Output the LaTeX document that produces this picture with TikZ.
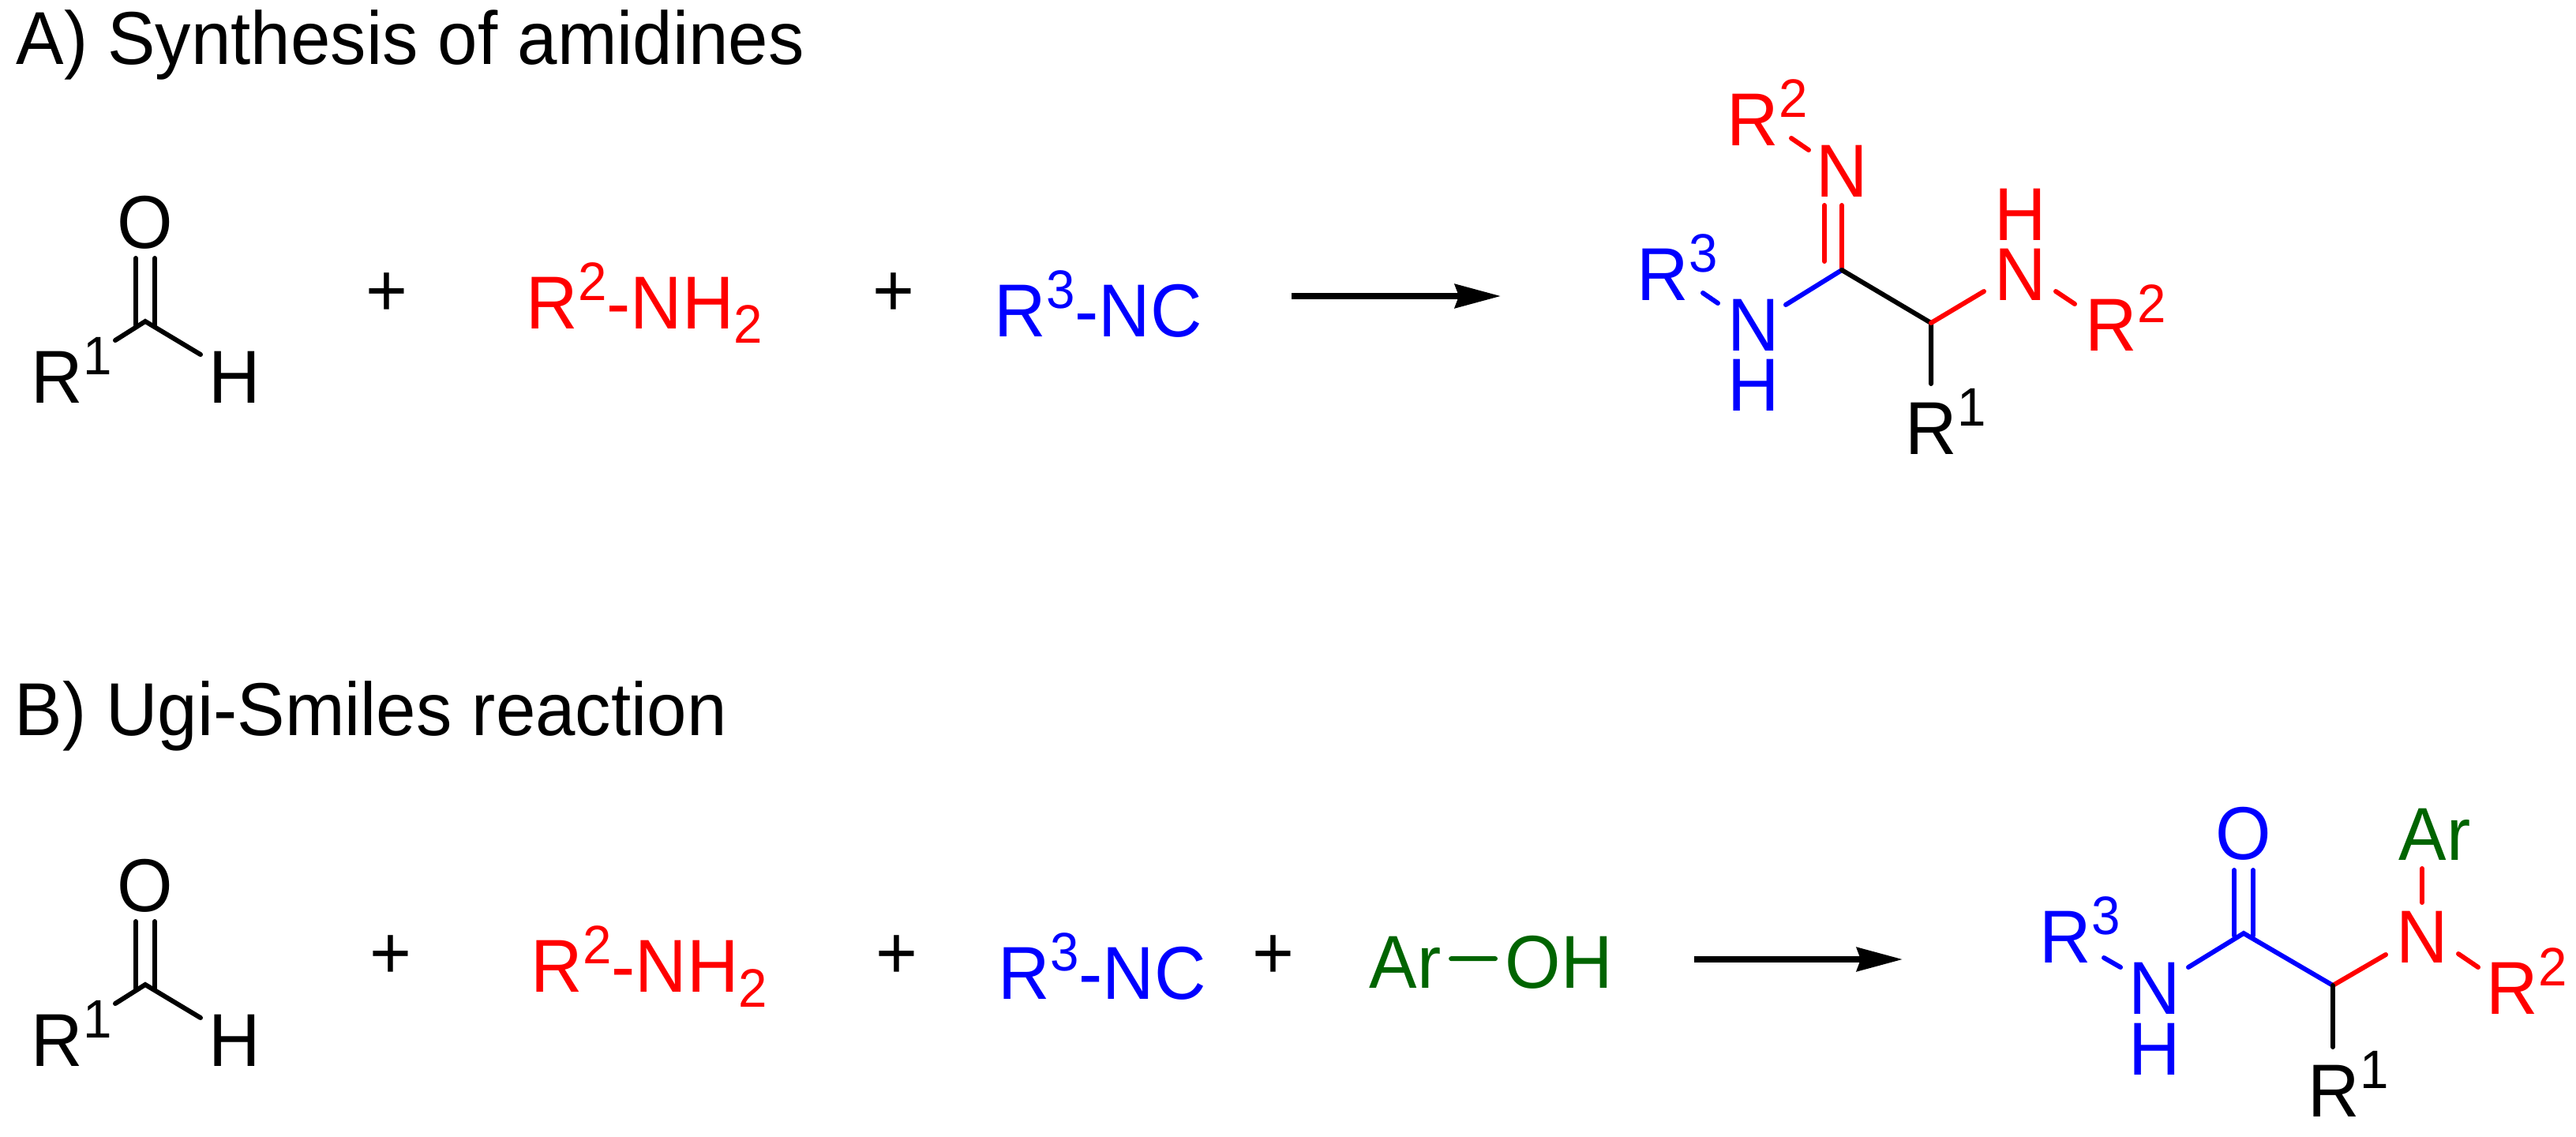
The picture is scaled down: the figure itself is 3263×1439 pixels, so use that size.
\documentclass[tikz,border=0pt]{standalone}
\usepackage{fontspec}
\setmainfont[FakeStretch=0.955]{Liberation Sans}
\usetikzlibrary{arrows.meta}
\definecolor{argreen}{RGB}{0,100,0}
\newcommand{\upnum}[1]{\raisebox{10.2pt}{\fontsize{19.5}{20}\selectfont #1}}
\newcommand{\dnnum}[1]{\raisebox{-5.4pt}{\fontsize{19.5}{20}\selectfont #1}}
\tikzset{
 every node/.style={font=\fontsize{27}{30}\selectfont, inner sep=0},
 atom/.style={anchor=base},
 grp/.style={anchor=base west},
 bond/.style={line width=1.7pt, line cap=round},
 rxn/.style={line width=2.1pt, -{Stealth[length=.58cm,width=.3cm,inset=.05cm]}},
}
\begin{document}
\begin{tikzpicture} [x=0.01cm, y=-0.01cm]
\useasboundingbox (0,0) rectangle (3263,1439);
% panel A
\node[grp] (titleA) at (20,81) {A) Synthesis of amidines};
\foreach \s/\dy in {A/0,B/840} {
 \node[atom] (oxy\s) at (184,314+\dy) {O};
 \node[grp] (ald\s) at (39,510+\dy) {R\upnum{1}};
 \node[atom] (hyd\s) at (297,510+\dy) {H};
 \coordinate (co\s) at (184,407+\dy);
 \coordinate (coL\s) at (172,412+\dy);
 \coordinate (coR\s) at (196,412+\dy);
 \coordinate (otL\s) at (172,327+\dy);
 \coordinate (otR\s) at (196,327+\dy);
 \coordinate (rEnd\s) at (146,431+\dy);
 \coordinate (hEnd\s) at (254,449+\dy);
 \draw[bond] (coL\s) -- (otL\s);
 \draw[bond] (coR\s) -- (otR\s);
 \draw[bond] (rEnd\s) -- (co\s) -- (hEnd\s);
}
\node (plusA1) at (490,373) {+};
\node[grp,red] (amineA) at (666,416) {R\upnum{2}-NH\dnnum{2}};
\node (plusA2) at (1132,373) {+};
\node[grp,blue] (isoA) at (1259,426) {R\upnum{3}-NC};
\coordinate (tailA) at (1636,375);
\coordinate (tipA) at (1901,375);
\draw[rxn] (tailA) -- (tipA);
% amidine
\node[grp,red] (rtwoA) at (2187,184) {R\upnum{2}};
\node[atom,red] (nimA) at (2333,249) {N};
\node[grp,blue] (rthreeA) at (2073,380) {R\upnum{3}};
\node[atom,blue] (nhA) at (2221,444) {N};
\node[atom,blue] (hbA) at (2221,520) {H};
\node[atom,red] (nrA) at (2559,380) {N};
\node[atom,red] (hrA) at (2559,304) {H};
\node[grp,red] (rtwobA) at (2641,444) {R\upnum{2}};
\node[grp] (roneA) at (2413,575) {R\upnum{1}};
\coordinate (cA) at (2333,342);
\coordinate (chA) at (2446,409);
\coordinate (dbA) at (2311,331);
\coordinate (dbtA) at (2311,260);
\coordinate (dbuA) at (2333,260);
\coordinate (s1A) at (2291,190);
\coordinate (s1bA) at (2269,175);
\coordinate (s2A) at (2176,384);
\coordinate (s2bA) at (2157,371);
\coordinate (s3A) at (2604,369);
\coordinate (s3bA) at (2628,385);
\coordinate (cnA) at (2262,386);
\coordinate (nrEndA) at (2513,369);
\coordinate (roEndA) at (2446,486);
\draw[bond,red] (dbA) -- (dbtA);
\draw[bond,red] (cA) -- (dbuA);
\draw[bond,red] (s1A) -- (s1bA);
\draw[bond,blue] (s2A) -- (s2bA);
\draw[bond,blue] (cA) -- (cnA);
\draw[bond] (cA) -- (chA) -- (roEndA);
\draw[bond,red] (chA) -- (nrEndA);
\draw[bond,red] (s3A) -- (s3bA);
% panel B
\node[grp] (titleB) at (18,931) {B) Ugi-Smiles reaction};
\node (plusB1) at (495,1212) {+};
\node[grp,red] (amineB) at (672,1256) {R\upnum{2}-NH\dnnum{2}};
\node (plusB2) at (1136,1212) {+};
\node[grp,blue] (isoB) at (1264,1265) {R\upnum{3}-NC};
\node (plusB3) at (1613,1212) {+};
\node[grp,argreen] (arB) at (1734,1251) {Ar};
\node[grp,argreen] (ohB) at (1906,1251) {OH};
\draw[bond,argreen,shorten <=.12cm,shorten >=.12cm] ([yshift=1.2pt]arB.east) -- ([yshift=1.2pt]ohB.west);
\coordinate (tailB) at (2146,1215);
\coordinate (tipB) at (2410,1215);
\draw[rxn] (tailB) -- (tipB);
% amide
\node[atom,blue] (oxyP) at (2842,1088) {O};
\node[grp,argreen] (arP) at (3038,1089) {Ar};
\node[atom,red] (nrP) at (3068,1219) {N};
\node[grp,blue] (rthreeP) at (2583,1219) {R\upnum{3}};
\node[atom,blue] (nhP) at (2729,1284) {N};
\node[atom,blue] (hbP) at (2729,1361) {H};
\node[grp,red] (rtwoP) at (3149,1284) {R\upnum{2}};
\node[grp] (roneP) at (2923,1414) {R\upnum{1}};
\coordinate (cP) at (2842,1182);
\coordinate (chP) at (2955,1248);
\coordinate (dbLP) at (2830,1185);
\coordinate (dbRP) at (2854,1185);
\coordinate (dbtLP) at (2830,1102);
\coordinate (dbtRP) at (2854,1102);
\coordinate (cnP) at (2772,1225);
\coordinate (nrEndP) at (3022,1209);
\coordinate (roEndP) at (2955,1326);
\coordinate (s1P) at (2665,1213);
\coordinate (s1bP) at (2686,1225);
\coordinate (s2P) at (3114,1208);
\coordinate (s2bP) at (3139,1225);
\coordinate (arTopP) at (3068,1100);
\coordinate (arBotP) at (3068,1143);
\draw[bond,blue] (dbLP) -- (dbtLP);
\draw[bond,blue] (dbRP) -- (dbtRP);
\draw[bond,blue] (cnP) -- (cP) -- (chP);
\draw[bond,red] (chP) -- (nrEndP);
\draw[bond] (chP) -- (roEndP);
\draw[bond,blue] (s1P) -- (s1bP);
\draw[bond,red] (s2P) -- (s2bP);
\draw[bond,red] (arTopP) -- (arBotP);
\end{tikzpicture}
\end{document}
